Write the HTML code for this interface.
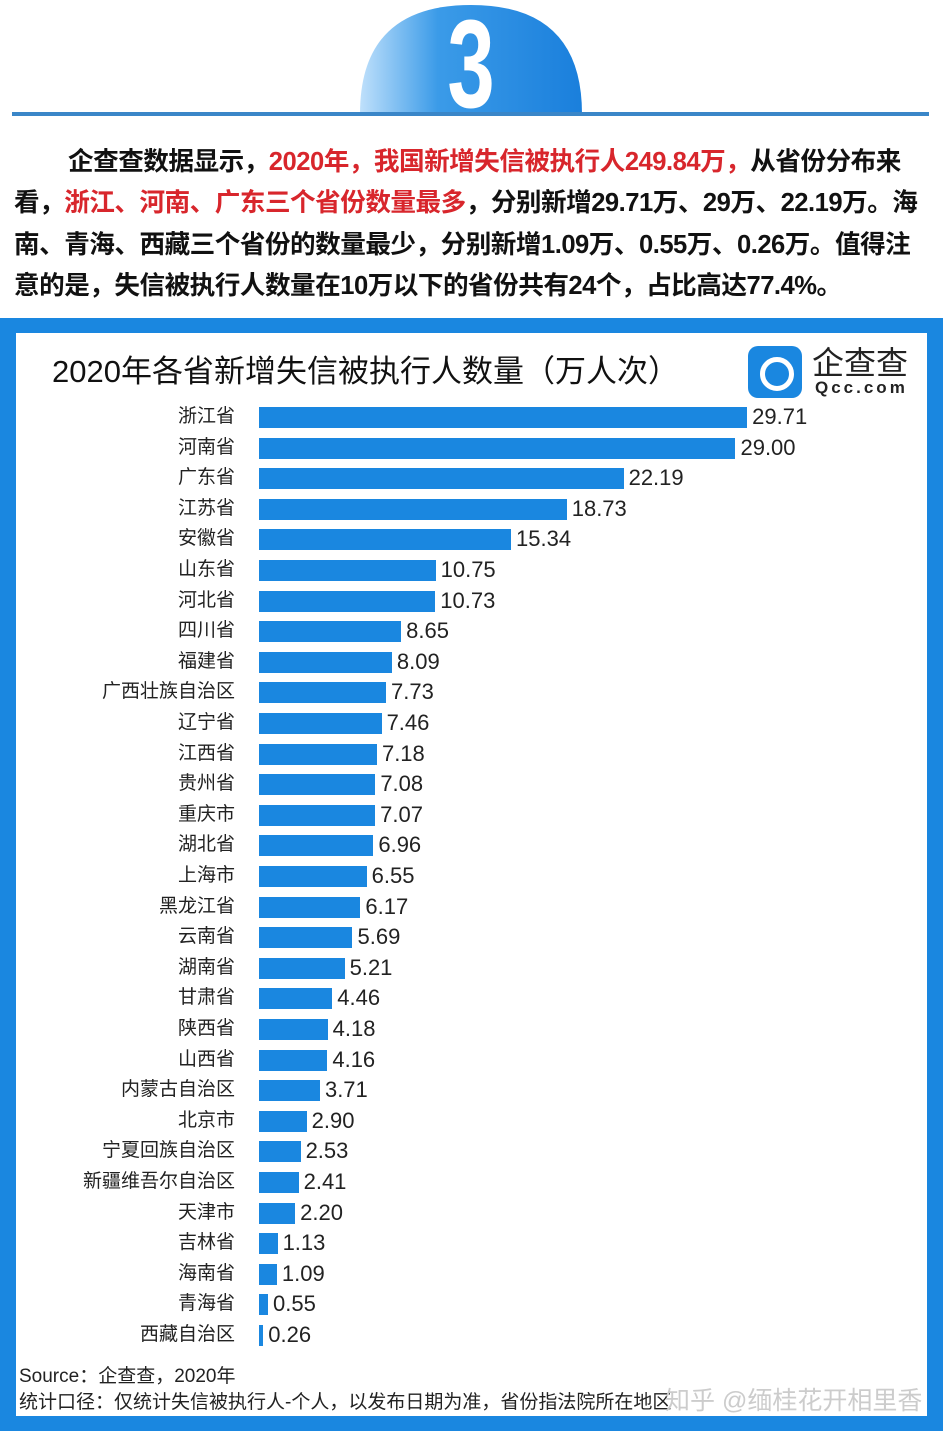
<!DOCTYPE html>
<html><head><meta charset="utf-8"><style>
body{margin:0;width:943px;height:1431px;background:#fff;position:relative;overflow:hidden;font-family:"Liberation Sans","Noto Sans CJK SC",sans-serif}
.p{position:absolute;left:14px;width:920px;font-weight:bold;font-size:25.6px;color:#111;white-space:nowrap;letter-spacing:-0.5px}
.r{color:#d8262c}
.lab{position:absolute;right:708px;font-size:19px;color:#222;text-align:right;white-space:nowrap;line-height:22px}
.bar{position:absolute;left:259px;height:21px;background:#1a87e0}
.val{position:absolute;font-size:22px;color:#222;line-height:22px;font-family:"Liberation Sans Narrow","Liberation Sans",sans-serif}
</style></head><body>
<svg width="943" height="120" style="position:absolute;left:0;top:0">
<defs><linearGradient id="g" x1="0" x2="1"><stop offset="0" stop-color="#bfe0fb"/><stop offset="0.35" stop-color="#3b9be8"/><stop offset="1" stop-color="#1a7fdc"/></linearGradient></defs>
<path d="M360 114 Q360 5 471 5 Q582 5 582 114 Z" fill="url(#g)"/>
<rect x="12" y="112" width="917" height="4" fill="#3a86c8"/>
<text x="0" y="0" text-anchor="middle" font-family="Liberation Sans" font-weight="bold" font-size="100" fill="#fff" transform="translate(471,107) scale(0.85,1.25)">3</text>
</svg>
<div class="p" style="top:141px;padding-left:54px">企查查数据显示，<span class="r">2020年，我国新增失信被执行人249.84万，</span>从省份分布来</div>
<div class="p" style="top:182px">看，<span class="r">浙江、河南、广东三个省份数量最多</span>，分别新增29.71万、29万、22.19万。海</div>
<div class="p" style="top:224px">南、青海、西藏三个省份的数量最少，分别新增1.09万、0.55万、0.26万。值得注</div>
<div class="p" style="top:265px">意的是，失信被执行人数量在10万以下的省份共有24个，占比高达77.4%。</div>
<div style="position:absolute;left:0;top:318px;width:943px;height:1113px;background:#1a87e0"></div>
<div style="position:absolute;left:16px;top:333px;width:911px;height:1083px;background:#fff"></div>
<div style="position:absolute;left:52px;top:346px;font-size:31px;color:#111;white-space:nowrap">2020年各省新增失信被执行人数量（万人次）</div>
<div style="position:absolute;left:748px;top:346px;width:54px;height:52px;border-radius:10px;background:#1a87e0"></div>
<div style="position:absolute;left:760px;top:357px;width:24px;height:24px;border:5px solid #fff;border-radius:50%"></div>
<div style="position:absolute;left:812px;top:338px;font-size:32px;color:#222">企查查</div>
<div style="position:absolute;left:815px;top:378px;font-size:17px;color:#222;letter-spacing:3px;font-weight:bold">Qcc.com</div>
<div id="c"></div>
<div style="position:absolute;left:19px;top:1361px;font-size:19px;color:#222;white-space:nowrap">Source：企查查，2020年</div>
<div style="position:absolute;left:19px;top:1387px;font-size:19px;color:#222;white-space:nowrap">统计口径：仅统计失信被执行人-个人，以发布日期为准，省份指法院所在地区</div>
<div style="position:absolute;left:665px;top:1381px;font-size:25px;color:#ccc;white-space:nowrap">知乎 @缅桂花开相里香</div>
<script>
var d=[["浙江省",29.71],["河南省",29.00],["广东省",22.19],["江苏省",18.73],["安徽省",15.34],["山东省",10.75],["河北省",10.73],["四川省",8.65],["福建省",8.09],["广西壮族自治区",7.73],["辽宁省",7.46],["江西省",7.18],["贵州省",7.08],["重庆市",7.07],["湖北省",6.96],["上海市",6.55],["黑龙江省",6.17],["云南省",5.69],["湖南省",5.21],["甘肃省",4.46],["陕西省",4.18],["山西省",4.16],["内蒙古自治区",3.71],["北京市",2.90],["宁夏回族自治区",2.53],["新疆维吾尔自治区",2.41],["天津市",2.20],["吉林省",1.13],["海南省",1.09],["青海省",0.55],["西藏自治区",0.26]];
var h="";
d.forEach(function(e,i){var y=417+i*30.6;var w=Math.max(2,e[1]*16.43);
h+='<div class="lab" style="top:'+(y-11)+'px">'+e[0]+'</div><div class="bar" style="top:'+(y-10)+'px;width:'+w+'px"></div><div class="val" style="top:'+(y-11)+'px;left:'+(259+w+5)+'px">'+e[1].toFixed(2)+'</div>';});
document.getElementById("c").innerHTML=h;
</script>
</body></html>
